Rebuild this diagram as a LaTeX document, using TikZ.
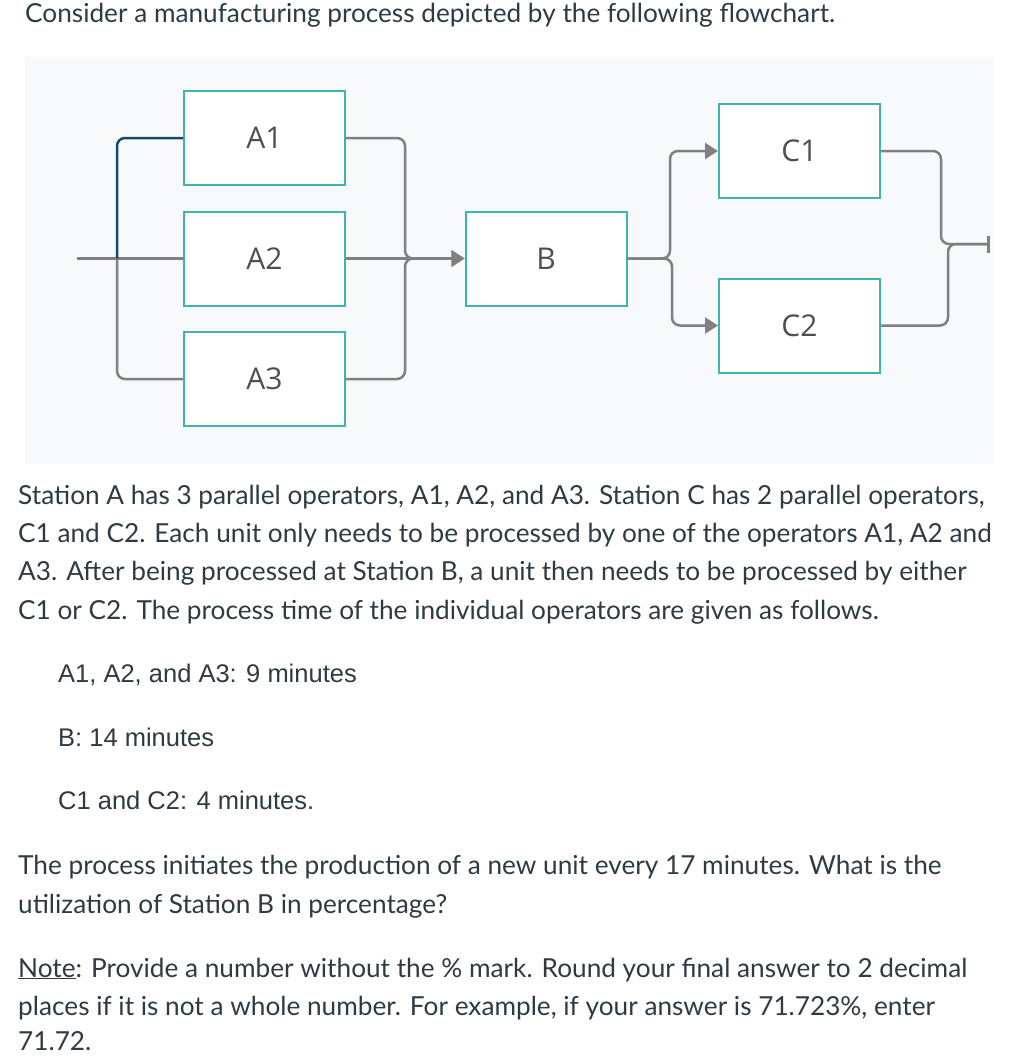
\documentclass[tikz,border=0pt]{standalone}
\usepackage{fontspec}
\setmainfont{Lato}
\newfontfamily\boxfont{Open Sans}
\newfontfamily\itemfont{Liberation Sans}
\usetikzlibrary{arrows.meta}
\definecolor{bgpanel}{HTML}{F8F9FB}
\definecolor{teal}{HTML}{3DB5AF}
\definecolor{conn}{HTML}{808080}
\definecolor{darkconn}{HTML}{174B6B}
\definecolor{txt}{HTML}{2D3B45}
\definecolor{lbl}{HTML}{505050}
\tikzset{
  opbox/.style={draw=teal, line width=2pt, fill=white, minimum width=161pt, minimum height=94pt, inner sep=0pt, font=\boxfont\fontsize{30}{30}\selectfont, text=lbl},
  conline/.style={draw=conn, line width=2.5pt, rounded corners=8pt},
  arr/.style={-{Triangle[length=13pt,width=16pt]}},
  endbar/.style={-{Bar[width=17pt,line width=3pt]}},
  para/.style={anchor=base west, inner sep=0pt, text=txt, font=\fontsize{26.2}{38}\selectfont},
  itempara/.style={para, font=\itemfont\fontsize{25.5}{38}\selectfont}
}
\begin{document}
\begin{tikzpicture}[x=1pt,y=-1pt]
\useasboundingbox (0,0) rectangle (1024,1058);
\fill[white] (0,0) rectangle (1024,1058);
\fill[bgpanel] (25,57) rectangle (993,464);

\node[opbox] (A1) at (264.5,138) {A1};
\node[opbox] (A2) at (264.5,258.5) {A2};
\node[opbox] (A3) at (264.5,379) {A3};
\node[opbox] (B) at (546,258.5) {B};
\node[opbox] (C1) at (799.5,151) {C1};
\node[opbox] (C2) at (799.5,325.5) {C2};

\coordinate (in) at (77,258.5);
\coordinate (split) at (117,258.5);
\coordinate (out) at (990,244);

% input side
\draw[conline] (in) -- (A2.west);
\draw[conline] (split) |- (A3.west);
\draw[conline, draw=darkconn] (split) |- (A1.west);

% A to B
\draw[conline, arr] (A1.east) -- (405,138) -- (405,258.5) -- (B.west);
\draw[conline, arr] (A3.east) -- (405,379) -- (405,258.5) -- (B.west);
\draw[conline, arr] (A2.east) -- (B.west);

% B to C
\draw[conline, arr] (B.east) -- (670,258.5) -- (670,151) -- (C1.west);
\draw[conline, arr] (B.east) -- (672,258.5) -- (672,325.5) -- (C2.west);

% C to out
\draw[conline, endbar] (C1.east) -- (941,151) -- (941,244) -- (out);
\draw[conline, endbar] (C2.east) -- (948,325.5) -- (948,244) -- (out);

% text
\node[para] (t0) at (25,22) {Consider a manufacturing process depicted by the following flowchart.};
\node[para] (p1) at (18,504) {Station A has 3 parallel operators, A1, A2, and A3. Station C has 2 parallel operators,};
\node[para] (p2) at (18,542.4) {C1 and C2. Each unit only needs to be processed by one of the operators A1, A2 and};
\node[para] (p3) at (18,580.8) {A3. After being processed at Station B, a unit then needs to be processed by either};
\node[para] (p4) at (18,619.2) {C1 or C2. The process time of the individual operators are given as follows.};
\node[itempara] (i1) at (58,682.5) {A1, A2, and A3: 9 minutes};
\node[itempara] (i2) at (58,746) {B: 14 minutes};
\node[itempara] (i3) at (58,809) {C1 and C2: 4 minutes.};
\node[para] (q1) at (18,874) {The process initiates the production of a new unit every 17 minutes. What is the};
\node[para] (q2) at (18,913) {utilization of Station B in percentage?};
\node[para] (n1) at (18,977) {\underline{Note}: Provide a number without the \% mark. Round your final answer to 2 decimal};
\node[para] (n2) at (18,1015) {places if it is not a whole number. For example, if your answer is 71.723\%, enter};
\node[para] (n3) at (18,1050) {71.72.};
\end{tikzpicture}
\end{document}
